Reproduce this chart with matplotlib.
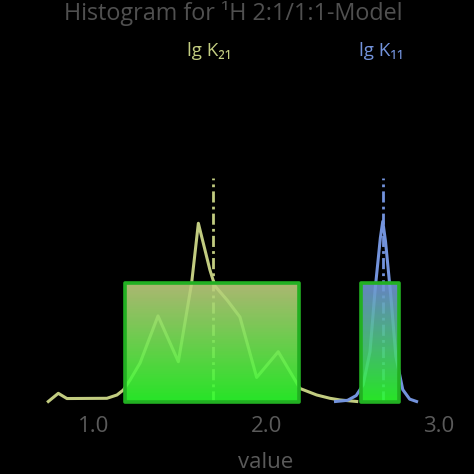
import numpy as np
import matplotlib
matplotlib.use("Agg")
import matplotlib.pyplot as plt
from matplotlib.patches import Rectangle
from matplotlib.colors import to_rgb

# histogram bars (left edge, right edge, height)
bar_left = [1.18, 2.55]
bar_right = [2.19, 2.77]
bar_height = [1.0, 1.0]

# distribution lines
k21_x = [0.735, 0.793, 0.843, 1.075, 1.133, 1.170, 1.209, 1.267, 1.371, 1.489, 1.566, 1.605,
         1.672, 1.701, 1.771, 1.846, 1.943, 2.068, 2.194, 2.291, 2.368, 2.426, 2.523]
k21_y = [0.0, 0.069, 0.025, 0.027, 0.055, 0.097, 0.181, 0.325, 0.722, 0.336, 1.0, 1.504,
         1.11, 0.975, 0.857, 0.713, 0.203, 0.42, 0.110, 0.055, 0.027, 0.013, 0.0]
k11_x = [2.40, 2.47, 2.52, 2.56, 2.60, 2.63, 2.66, 2.674, 2.69, 2.72, 2.75, 2.79, 2.83, 2.87]
k11_y = [0.0, 0.01, 0.05, 0.14, 0.42, 0.95, 1.38, 1.52, 1.35, 0.90, 0.38, 0.10, 0.02, 0.0]

# best values
lgK21 = 1.69
lgK11 = 2.674

c21 = "#c2cc80"
c11 = "#7393dc"
green = "#2dff2d"
edge = "#22b022"

fig = plt.figure(figsize=(4.74, 4.74), dpi=100, facecolor="black")
ax = fig.add_axes([0, (474 - 405) / 474, 1, 230 / 474])
ax.set_facecolor("black")

ax.plot(k21_x, k21_y, color=c21, lw=2.2, zorder=2)
ax.plot(k11_x, k11_y, color=c11, lw=2.2, zorder=2)
ax.vlines([lgK21], 0, 1.886, colors=c21, lw=2.0, linestyles=(0, (4, 1.5, 1, 1.5)), zorder=2)
ax.vlines([lgK11], 0, 1.886, colors=c11, lw=2.0, linestyles=(0, (4, 1.5, 1, 1.5)), zorder=2)

for i, top_c in enumerate([c21, c11]):
    x0, x1, h = bar_left[i], bar_right[i], bar_height[i]
    n = 100
    t = np.linspace(0, 1, n)[:, None]
    a = np.array(to_rgb(top_c))
    b = np.array(to_rgb(green))
    rgb = a * (1 - t) + b * t
    img = np.concatenate([rgb, np.full((n, 1), 0.9)], axis=1)[:, None, :]
    rect = Rectangle((x0, 0), x1 - x0, h, facecolor="none", edgecolor=edge,
                     lw=2.6, joinstyle="round", zorder=4)
    ax.add_patch(rect)
    im = ax.imshow(img, extent=[x0, x1, 0, h], aspect="auto", origin="upper", zorder=3)
    im.set_clip_path(rect)

ax.set_xlim(1 - 94 / 172.5, 1 + 380 / 172.5)
ax.set_ylim(-3.5 / 118.5, 226.5 / 118.5)
ax.axis("off")

txt = dict(family=["Open Sans", "DejaVu Sans"], ha="center", va="center")
fig.text(233.5 / 474, 1 - 13 / 474, "Histogram for \u00b9H 2:1/1:1-Model", color="#505050",
         fontsize=16.8, **txt)
fig.text(209 / 474, 1 - 51 / 474, "lg K\u2082\u2081", color=c21, fontsize=13.5, **txt)
fig.text(381 / 474, 1 - 51 / 474, "lg K\u2081\u2081", color=c11, fontsize=13.5, **txt)
for v, lab in zip([1.0, 2.0, 3.0], ["1.0", "2.0", "3.0"]):
    fig.text((94 + (v - 1) * 172.5) / 474, 1 - 427 / 474, lab, color="#5a5a5a", fontsize=16, **txt)
fig.text(266 / 474, 1 - 463 / 474, "value", color="#5a5a5a", fontsize=16, **txt)

fig.savefig("out.png", dpi=100, facecolor="black")
